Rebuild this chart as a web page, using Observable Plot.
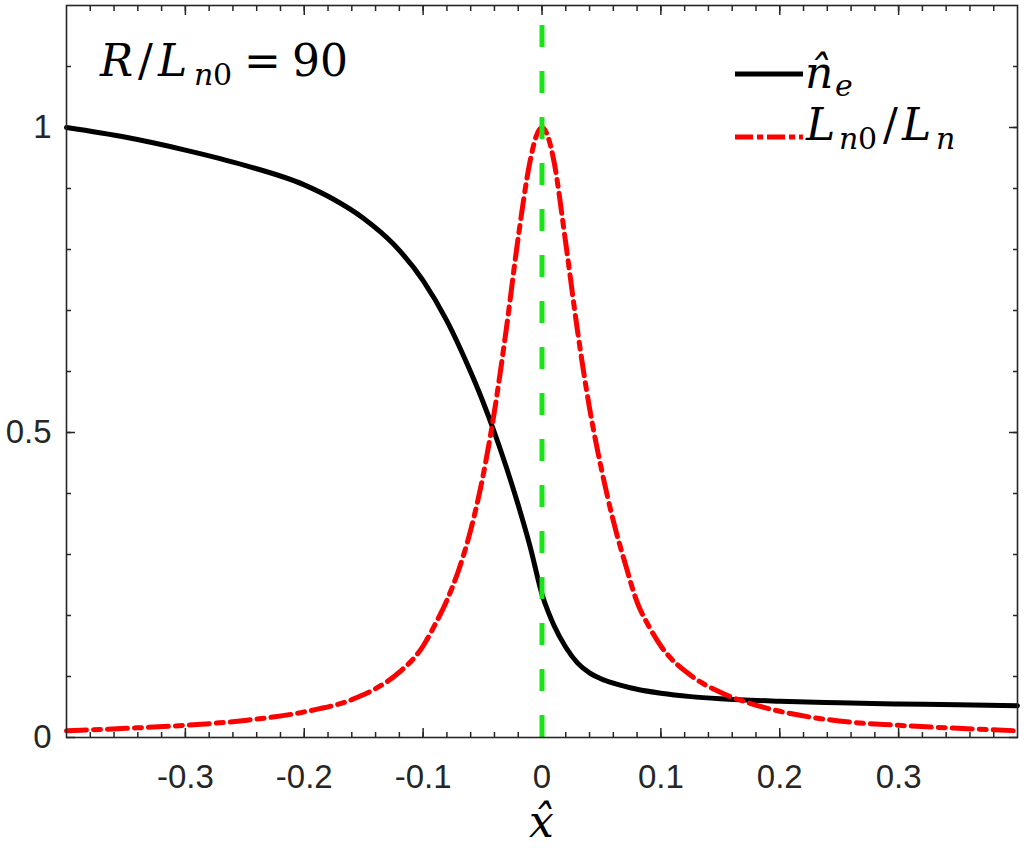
<!DOCTYPE html>
<html>
<head>
<meta charset="utf-8">
<script src="https://cdn.jsdelivr.net/npm/d3@7"></script>
<script src="https://cdn.jsdelivr.net/npm/@observablehq/plot@0.6"></script>
<style>
  html, body { margin: 0; padding: 0; background: #fff; }
  #chart svg { display: block; }
</style>
</head>
<body>
<div id="chart"></div>
<script>
// Normalised electron density profile n̂_e(x̂)
const xNe = [-0.4, -0.35, -0.3, -0.25, -0.2, -0.175, -0.15, -0.125, -0.1, -0.08, -0.06, -0.05, -0.04, -0.03,
  -0.02, -0.01, 0, 0.005, 0.01, 0.02, 0.03, 0.04, 0.05, 0.06, 0.08, 0.1, 0.125, 0.15, 0.2, 0.25, 0.3, 0.35, 0.4];
const ne = [1.0, 0.984, 0.963, 0.938, 0.906, 0.882, 0.851, 0.809, 0.749, 0.683, 0.599, 0.552, 0.50, 0.443,
  0.381, 0.313, 0.235, 0.207, 0.184, 0.148, 0.122, 0.106, 0.096, 0.089, 0.079, 0.0725, 0.067, 0.0635, 0.0595, 0.057, 0.055, 0.0535, 0.052];

// Normalised inverse gradient length L_n0 / L_n
const xLn = [-0.4, -0.35, -0.3, -0.25, -0.2, -0.16, -0.14, -0.12, -0.1, -0.09, -0.08, -0.07, -0.06, -0.05,
  -0.04, -0.03, -0.02, -0.01, -0.005, 0, 0.005, 0.01, 0.02, 0.03, 0.04, 0.05, 0.06, 0.07, 0.08, 0.09, 0.1,
  0.125, 0.15, 0.175, 0.2, 0.25, 0.3, 0.35, 0.4];
const lnRatio = [0.011, 0.015, 0.020, 0.028, 0.042, 0.062, 0.080, 0.107, 0.15, 0.185, 0.225, 0.275, 0.34, 0.425,
  0.535, 0.67, 0.82, 0.945, 0.985, 1.0, 0.985, 0.945, 0.81, 0.665, 0.54, 0.44, 0.355, 0.285, 0.222, 0.182, 0.15,
  0.102, 0.074, 0.056, 0.043, 0.027, 0.020, 0.015, 0.011];

// Position of the steepest gradient
const xPeak = [0];

// Axis ticks
const xTicks = [-0.3, -0.2, -0.1, 0, 0.1, 0.2, 0.3];
const yTicks = [0, 0.5, 1];
const xMinor = d3.range(-19, 20).map(i => i / 50);
const yMinor = d3.range(1, 12).map(i => i / 10);

const neData = xNe.map((x, i) => ({x, y: ne[i]}));
const lnData = xLn.map((x, i) => ({x, y: lnRatio[i]}));
const peakData = xPeak.map(x => ({x, y1: 0, y2: 1.2}));

const W = 1025, H = 848;
const axisColor = "#262626";
const blank = () => "";
const tickOpts = {tickFormat: blank, label: null, stroke: axisColor, strokeWidth: 1.5};

const plot = Plot.plot({
  width: W,
  height: H,
  marginLeft: 66,
  marginRight: 8,
  marginTop: 5,
  marginBottom: 111,
  x: {domain: [-0.4, 0.4]},
  y: {domain: [0, 1.2]},
  style: {fontFamily: "'Liberation Sans', Arial, sans-serif", color: axisColor, background: "#fff"},
  marks: [
    // inward minor and major ticks on all four sides
    Plot.axisX(xMinor, {anchor: "bottom", tickSize: -5, ...tickOpts}),
    Plot.axisX(xMinor, {anchor: "top", tickSize: -5, ...tickOpts}),
    Plot.axisX(xTicks, {anchor: "bottom", tickSize: -9, ...tickOpts}),
    Plot.axisX(xTicks, {anchor: "top", tickSize: -9, ...tickOpts}),
    Plot.axisY(yMinor, {anchor: "left", tickSize: -5, ...tickOpts}),
    Plot.axisY(yMinor, {anchor: "right", tickSize: -5, ...tickOpts}),
    Plot.axisY(yTicks, {anchor: "left", tickSize: -9, ...tickOpts}),
    Plot.axisY(yTicks, {anchor: "right", tickSize: -9, ...tickOpts}),
    // tick labels
    Plot.axisX(xTicks, {anchor: "bottom", tickSize: 0, tickPadding: 27, tickFormat: d => String(d), label: null, fontSize: 33, fill: axisColor}),
    Plot.axisY(yTicks, {anchor: "left", tickSize: 0, tickPadding: 15, tickFormat: d => String(d), label: null, fontSize: 33, fill: axisColor}),
    // curves
    Plot.line(neData, {x: "x", y: "y", stroke: "#000", strokeWidth: 5, curve: "monotone-x"}),
    Plot.line(lnData, {x: "x", y: "y", stroke: "#ff0000", strokeWidth: 5, strokeDasharray: "20,7,7,7", curve: "monotone-x"}),
    Plot.ruleX(peakData, {x: "x", y1: "y1", y2: "y2", stroke: "#18e418", strokeWidth: 5, strokeDasharray: "22,24"}),
    Plot.frame({stroke: axisColor, strokeWidth: 1.6})
  ]
});

document.getElementById("chart").appendChild(plot);

// Math-style labels (serif, italic variables, subscripts)
const svg = d3.select(plot);
const [fx0, fx1] = plot.scale("x").range;
const [fyBottom, fyTop] = plot.scale("y").range;
const serifStack = "font-family: 'DejaVu Serif', 'Liberation Serif', serif";

function mathText(x, y, size, parts, anchor = "start") {
  const t = svg.append("text")
    .attr("style", serifStack)
    .attr("x", x).attr("y", y)
    .attr("font-size", size)
    .attr("text-anchor", anchor)
    .attr("fill", "#000");
  for (const p of parts) {
    const s = t.append("tspan").text(p.t).attr("style", serifStack);
    if (p.x != null) s.attr("x", x + p.x);
    if (p.italic) s.attr("font-style", "italic");
    if (p.size) s.attr("font-size", p.size);
    if (p.dy != null) s.attr("dy", p.dy);
  }
  return t;
}

// R/L_n0 = 90
const ax = fx0 + 34, ay = fyTop + 71;
mathText(ax, ay, 44, [
  {t: "R", italic: true, x: 0},
  {t: "/", x: 38},
  {t: "L", italic: true, x: 58},
  {t: "n", italic: true, size: 30, x: 94, dy: 9},
  {t: "0", size: 30, x: 113},
  {t: "=", x: 144, dy: -9},
  {t: "90", x: 192}
]);

// legend
const lx0 = 735, lx1 = 803, ly1 = 74, ly2 = 137;
svg.append("line").attr("x1", lx0).attr("x2", lx1).attr("y1", ly1).attr("y2", ly1)
  .attr("stroke", "#000").attr("stroke-width", 5);
svg.append("line").attr("x1", lx0).attr("x2", lx1).attr("y1", ly2).attr("y2", ly2)
  .attr("stroke", "#ff0000").attr("stroke-width", 5).attr("stroke-dasharray", "18,4,6,4");

mathText(805, ly1 + 14, 44, [
  {t: "n\u0302", italic: true, x: 0},
  {t: "e", italic: true, size: 30, x: 30, dy: 8}
]);

mathText(806, ly2 + 3, 44, [
  {t: "L", italic: true, x: 0},
  {t: "n", italic: true, size: 30, x: 33, dy: 9},
  {t: "0", size: 30, x: 52},
  {t: "/", x: 77, dy: -9},
  {t: "L", italic: true, x: 96},
  {t: "n", italic: true, size: 30, x: 130, dy: 9}
]);

// x-axis label x̂
mathText((fx0 + fx1) / 2, 837, 44, [{t: "x\u0302", italic: true}], "middle");
</script>
</body>
</html>
